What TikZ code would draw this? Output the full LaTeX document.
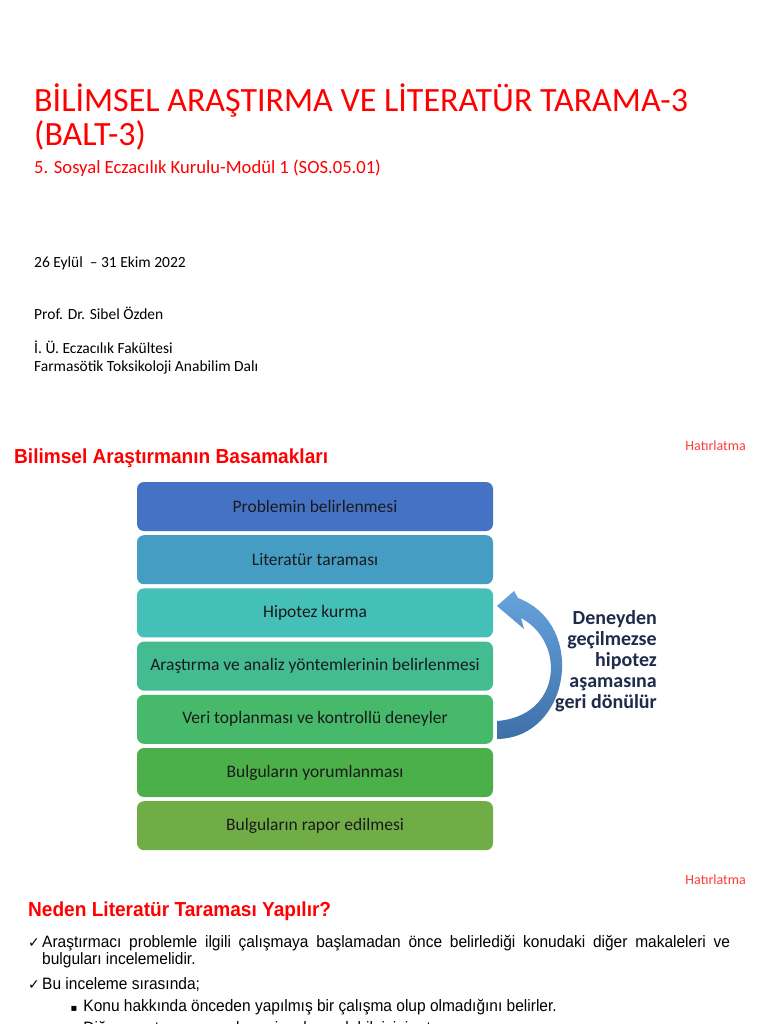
\documentclass[tikz,border=0pt]{standalone}
\usepackage{fontspec}
\setmainfont{Carlito}
\newfontfamily\arialfont[FakeStretch=0.94]{Liberation Sans}
\newfontfamily\symfont{DejaVu Sans}
\usetikzlibrary{positioning}

\definecolor{titlered}{HTML}{FF0000}
\definecolor{notered}{HTML}{FF3B3B}
\definecolor{textdark}{HTML}{1A1A1A}
\definecolor{sidenavy}{HTML}{1F2B48}
\definecolor{boxA}{HTML}{4472C4}
\definecolor{boxB}{HTML}{459DC4}
\definecolor{boxC}{HTML}{45C0B8}
\definecolor{boxD}{HTML}{44BC92}
\definecolor{boxE}{HTML}{47B96A}
\definecolor{boxF}{HTML}{4CB04A}
\definecolor{boxG}{HTML}{70AD47}
\definecolor{arrowlight}{HTML}{66A2DC}
\definecolor{arrowdark}{HTML}{3E70A8}

\tikzset{
  stepbox/.style={rounded corners=7pt, minimum width=356pt, minimum height=49pt,
    inner sep=0pt, text=textdark, font=\fontsize{17.5}{21}\selectfont},
  plain/.style={anchor=base west, inner sep=0pt, text=black, font=\fontsize{15.5}{18}\selectfont},
  hint/.style={anchor=base east, inner sep=0pt, text=notered, font=\fontsize{14}{16}\selectfont},
  heading/.style={anchor=base west, inner sep=0pt, text=titlered, font=\arialfont\bfseries\fontsize{20.3}{23}\selectfont},
  bullet/.style={anchor=base west, inner sep=0pt, text=black, font=\arialfont\fontsize{16.5}{19}\selectfont},
}
\newcommand{\tick}{\makebox[14pt][l]{\symfont\fontsize{14}{16}\selectfont ✓}}
\newcommand{\sqbullet}{{\symfont\fontsize{10}{12}\selectfont ▪}\hspace{6pt}}

\begin{document}
\begin{tikzpicture}[x=1pt, y=-1pt]
  \useasboundingbox (0,0) rectangle (768,1024);
  \clip (0,0) rectangle (768,1024);
  \fill[white] (0,0) rectangle (768,1024);

  % Title block
  \node[plain, text=titlered, font=\fontsize{34}{38}\selectfont] (title) at (34,112)
    {BİLİMSEL ARAŞTIRMA VE LİTERATÜR TARAMA-3};
  \node[plain, text=titlered, font=\fontsize{34}{38}\selectfont] (balt) at (34,146) {(BALT-3)};
  \node[plain, text=titlered, font=\fontsize{18.6}{21}\selectfont] (module) at (34,174)
    {5. Sosyal Eczacılık Kurulu-Modül 1 (SOS.05.01)};

  \node[plain] (date) at (34,267) {26 Eylül \ – 31 Ekim 2022};
  \node[plain] (prof) at (34,319) {Prof. Dr. Sibel Özden};
  \node[plain] (faculty) at (34,353) {İ. Ü. Eczacılık Fakültesi};
  \node[plain] (dept) at (34,371) {Farmasötik Toksikoloji Anabilim Dalı};

  % Steps of research
  \node[hint] (hintA) at (746,450) {Hatırlatma};
  \node[heading] (stepshead) at (14,463) {Bilimsel Araştırmanın Basamakları};

  \node[stepbox, fill=boxA] (s1) at (315,506.5) {Problemin belirlenmesi};
  \node[stepbox, fill=boxB, below=3.8pt of s1] (s2) {Literatür taraması};
  \node[stepbox, fill=boxC, below=3.8pt of s2] (s3) {Hipotez kurma};
  \node[stepbox, fill=boxD, below=3.8pt of s3] (s4) {Araştırma ve analiz yöntemlerinin belirlenmesi};
  \node[stepbox, fill=boxE, below=3.8pt of s4] (s5) {Veri toplanması ve kontrollü deneyler};
  \node[stepbox, fill=boxF, below=3.8pt of s5] (s6) {Bulguların yorumlanması};
  \node[stepbox, fill=boxG, below=3.8pt of s6] (s7) {Bulguların rapor edilmesi};

  % Curved return arrow
  \shade[top color=arrowlight, bottom color=arrowdark]
    (497,739) .. controls (570,738) and (588,625) .. (518,598)
    -- (514,591) -- (497,606) -- (524,629) -- (521,618)
    .. controls (566,642) and (562,716) .. (497,721) -- cycle;
  \node[anchor=north east, inner sep=0pt, align=right, text=sidenavy,
    font=\bfseries\fontsize{20}{21}\selectfont] (back) at (657,610)
    {Deneyden\\geçilmezse\\hipotez\\aşamasına\\geri dönülür};

  % Why literature review
  \node[hint] (hintB) at (746,884) {Hatırlatma};
  \node[heading] (whyhead) at (28,916) {Neden Literatür Taraması Yapılır?};

  \node[bullet] (c1) at (28,947) {\tick\makebox[688pt][s]{Araştırmacı problemle ilgili çalışmaya başlamadan önce belirlediği konudaki diğer makaleleri ve}};
  \node[bullet] (c1b) at (42,964) {bulguları incelemelidir.};
  \node[bullet] (c2) at (28,989) {\tick Bu inceleme sırasında;};
  \node[bullet, anchor=base east] (d1) at (557,1011) {\sqbullet Konu hakkında önceden yapılmış bir çalışma olup olmadığını belirler.};
  \path (d1.base west) ++(0,22) node[bullet] (d2) {\sqbullet Diğer araştırma sonuçlarını inceleyerek bilgisini artırır.};
\end{tikzpicture}
\end{document}
